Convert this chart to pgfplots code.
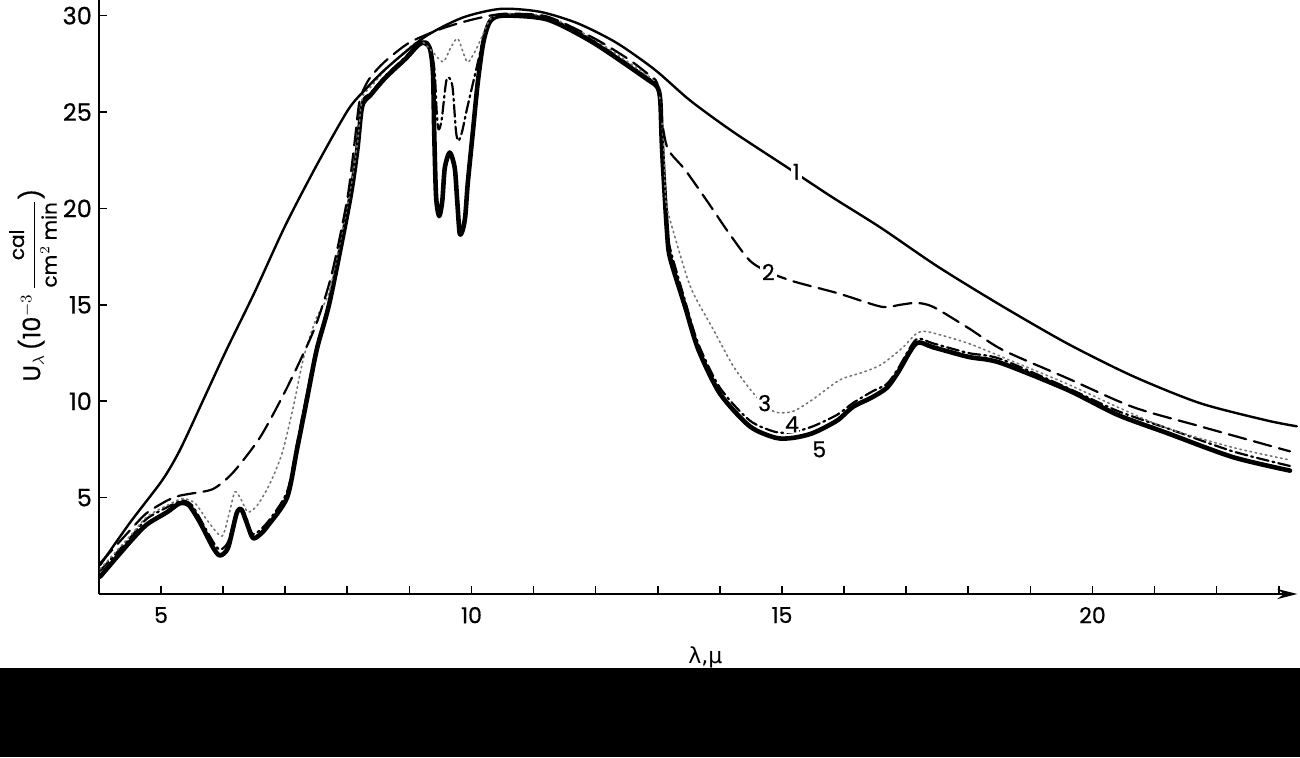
\documentclass[border=0pt]{standalone}
\usepackage{fontspec}
\setmainfont{Poppins}[FakeBold=0.6]
\newfontfamily\dejavu{DejaVu Sans}
\usepackage{pgfplots}
\pgfplotsset{compat=1.18}
\usetikzlibrary{arrows.meta}
\begin{document}
\begin{tikzpicture}[x=1pt,y=1pt]
\useasboundingbox (0,0) rectangle (650,378.5);
\fill[black] (0,0) rectangle (650,44.5);
\begin{axis}[
  at={(49.45pt,81.5pt)}, anchor=south west,
  scale only axis, width=599.25pt, height=297pt,
  xmin=4, xmax=23.3, ymin=0, ymax=30.81,
  axis x line*=bottom, axis y line*=left,
  x axis line style={line width=1.2pt, -{Stealth[length=10pt,width=5pt]}},
  y axis line style={line width=1.2pt},
  tick align=inside,
  major tick length=4pt,
  tick style={line width=0.8pt, black},
  xtick={5,...,23},
  xticklabels={5,,,,,10,,,,,15,,,,,20,,,},
  ytick={5,10,...,30},
  /pgf/number format/assume math mode=true,
  xticklabel style={font=\fontsize{11}{13}\selectfont, yshift=-3pt},
  yticklabel style={font=\fontsize{12}{14}\selectfont},
  clip=false,
  every axis plot/.append style={smooth, tension=0.45, line cap=round, line join=round},
]
% curve 5 (thick solid)
\addplot[black, line width=2.3pt] coordinates {
(4.02,0.9)(4.5,2.7)(4.77,3.6)(5.1,4.25)(5.3,4.7)(5.45,4.6)(5.63,3.7)(5.84,2.4)(5.95,2.0)(6.08,2.4)(6.22,4.2)(6.30,4.35)(6.38,3.7)(6.48,2.9)(6.6,3.1)(6.71,3.5)(7.03,5.0)(7.19,7.5)(7.35,10.1)(7.51,12.7)(7.72,15.2)(8.04,20.4)(8.16,23.0)(8.24,25.3)(8.38,25.9)(8.62,26.8)(8.95,27.8)(9.12,28.4)(9.22,28.6)(9.33,28.3)(9.38,27.0)(9.40,23.9)(9.43,20.6)(9.48,19.6)(9.53,20.4)(9.57,22.1)(9.65,22.9)(9.73,22.1)(9.77,20.4)(9.81,18.7)(9.86,18.9)(9.9,19.6)(9.94,21.3)(10.02,23.9)(10.10,26.5)(10.19,28.6)(10.30,29.7)(10.51,30.0)(11.22,29.8)(11.96,28.6)(12.83,26.7)(12.99,26.3)(13.04,25.6)(13.07,23.0)(13.15,18.7)(13.2,17.4)(13.44,14.9)(13.65,12.7)(14.0,10.4)(14.48,8.7)(14.9,8.1)(15.18,8.1)(15.5,8.35)(15.89,9.0)(16.14,9.7)(16.45,10.2)(16.69,10.7)(16.87,11.5)(17.16,13.0)(17.43,12.8)(18.0,12.3)(18.51,12.0)(19.59,10.6)(20.4,9.3)(21.2,8.35)(22.26,7.1)(23.18,6.4)
};
% curve 4 (dash-dot)
\addplot[black, line width=1.1pt, dash pattern=on 6pt off 2pt on 1pt off 2pt] coordinates {
(4.02,1.2)(4.5,2.9)(4.77,3.9)(5.1,4.5)(5.35,4.85)(5.5,4.6)(5.63,3.9)(5.84,2.7)(5.95,2.3)(6.08,2.7)(6.22,4.3)(6.30,4.45)(6.38,3.9)(6.48,3.1)(6.71,3.7)(7.03,5.3)(7.19,7.8)(7.35,10.4)(7.51,12.9)(7.72,15.3)(8.04,20.5)(8.16,23.1)(8.24,25.5)(8.38,26.0)(8.62,26.9)(8.95,27.9)(9.12,28.5)(9.3,28.6)(9.40,27.3)(9.44,25.0)(9.47,24.1)(9.52,24.6)(9.6,26.7)(9.69,26.4)(9.75,24.0)(9.79,23.5)(9.85,24.0)(9.93,25.2)(10.09,27.4)(10.2,28.9)(10.3,29.8)(10.51,30.05)(11.22,29.9)(11.96,28.7)(12.83,26.8)(12.99,26.4)(13.04,25.7)(13.07,23.2)(13.15,19.0)(13.2,17.9)(13.44,15.2)(13.65,13.0)(14.0,10.7)(14.48,9.0)(14.9,8.4)(15.18,8.4)(15.5,8.7)(15.89,9.3)(16.14,9.9)(16.45,10.5)(16.69,10.9)(16.87,11.7)(17.16,13.2)(17.43,13.0)(18.0,12.5)(18.51,12.2)(19.59,10.7)(20.4,9.5)(21.2,8.6)(22.26,7.4)(23.18,6.64)
};
% curve 3 (dotted)
\addplot[black!55, line width=0.8pt, dash pattern=on 0.8pt off 1.8pt] coordinates {
(4.02,1.3)(4.5,3.0)(4.77,4.0)(5.1,4.6)(5.35,4.95)(5.55,4.7)(5.75,3.8)(5.98,3.0)(6.1,4.2)(6.19,5.3)(6.29,4.9)(6.40,4.25)(6.55,4.6)(6.75,5.7)(6.95,7.3)(7.13,9.7)(7.3,12.3)(7.5,14.3)(7.72,15.8)(8.04,20.8)(8.16,23.3)(8.24,25.7)(8.38,26.3)(8.62,27.2)(8.95,28.2)(9.17,28.7)(9.35,28.2)(9.54,27.6)(9.66,28.3)(9.78,28.8)(9.93,27.6)(10.05,28.1)(10.14,28.7)(10.30,29.8)(10.51,30.1)(11.22,29.95)(11.96,28.8)(12.83,26.9)(12.99,26.5)(13.04,25.5)(13.1,23.0)(13.13,20.4)(13.26,18.7)(13.53,15.9)(13.88,13.8)(14.2,11.9)(14.42,10.9)(14.6,10.2)(14.85,9.5)(15.0,9.4)(15.2,9.5)(15.5,10.1)(15.93,11.1)(16.3,11.5)(16.6,11.9)(16.95,12.8)(17.16,13.5)(17.35,13.6)(18.0,13.0)(18.69,12.1)(19.59,10.9)(20.4,9.7)(21.2,8.6)(22.26,7.6)(23.18,6.95)
};
% curve 2 (dashed)
\addplot[black, line width=1.1pt, dash pattern=on 9pt off 4pt] coordinates {
(4.02,1.6)(4.5,3.3)(4.77,4.2)(5.1,4.85)(5.3,5.1)(5.47,5.2)(5.84,5.45)(6.16,6.3)(6.59,8.1)(6.95,10.2)(7.24,12.1)(7.5,14.0)(7.75,16.6)(8.0,20.5)(8.12,23.5)(8.2,25.6)(8.35,26.7)(8.6,27.6)(9.0,28.6)(9.5,29.3)(9.9,29.7)(10.3,30.0)(10.6,30.1)(11.22,29.95)(11.96,28.85)(12.5,27.8)(12.83,27.0)(12.99,26.5)(13.06,24.7)(13.16,23.1)(13.44,22.0)(13.79,20.4)(14.15,18.7)(14.48,17.3)(14.78,16.7)(15.2,16.2)(15.9,15.6)(16.6,14.9)(16.9,15.0)(17.16,15.1)(17.43,14.9)(18.0,13.8)(18.56,12.65)(19.59,11.2)(20.65,9.7)(21.73,8.7)(23.18,7.4)
};
% curve 1 (solid)
\addplot[black, line width=1.2pt] coordinates {
(4.02,1.5)(4.5,3.7)(5.02,5.9)(5.31,7.5)(5.7,10.2)(6.06,12.7)(6.5,15.6)(7.0,19.1)(7.5,22.2)(8.01,25.1)(8.3,26.2)(8.64,27.3)(9.25,28.9)(9.86,29.9)(10.47,30.35)(11.10,30.2)(11.71,29.6)(12.33,28.6)(12.95,27.2)(13.52,25.6)(14.2,24.0)(15.05,22.2)(15.8,20.6)(16.59,19.0)(17.5,17.0)(18.51,15.0)(19.59,13.0)(20.65,11.3)(21.73,9.9)(22.81,9.0)(23.29,8.7)
};
\node[fill=white, inner sep=1pt, font=\fontsize{11}{13}\selectfont] at (axis cs:15.23,21.9) {1};
\node[fill=white, inner sep=1pt, font=\fontsize{11}{13}\selectfont] at (axis cs:14.78,16.7) {2};
\node[fill=white, inner sep=0.5pt, font=\fontsize{11}{13}\selectfont] at (axis cs:14.72,9.9) {3};
\node[fill=white, inner sep=0.3pt, font=\fontsize{11}{13}\selectfont] at (axis cs:15.16,8.8) {4};
\node[inner sep=0pt, font=\fontsize{11}{13}\selectfont] at (axis cs:15.6,7.5) {5};
\node[rotate=90, anchor=center, font=\fontsize{12}{14}\selectfont] at (axis description cs:-0.055,0.52)
  {U$_{\lambda}$\,(10$^{-3}$\,$\displaystyle\frac{\mbox{\fontsize{10}{12}\selectfont cal}}{\mbox{\fontsize{10}{12}\selectfont cm$^{2}$ min}}$)};
\node[font=\fontsize{11}{13}\selectfont\dejavu] at (axis description cs:0.506,-0.106) {λ,µ};
\end{axis}
\end{tikzpicture}
\end{document}
